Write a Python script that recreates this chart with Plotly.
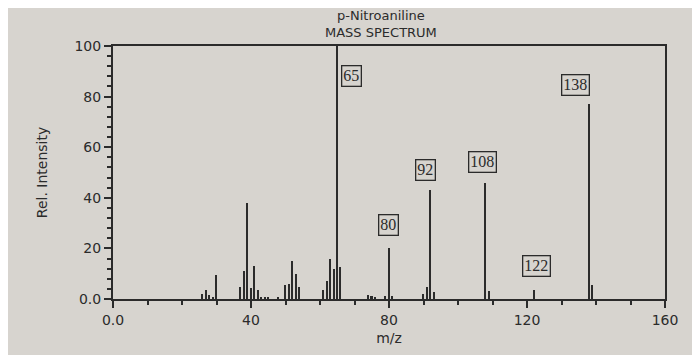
import plotly.graph_objects as go

# ---- data ----
mz = [26, 27, 28, 29, 30,
      37, 38, 39, 40, 41, 42, 43, 44, 45, 48,
      50, 51, 52, 53, 54,
      61, 62, 63, 64, 65, 66,
      74, 75, 76, 79, 80, 81,
      90, 91, 92, 93,
      108, 109, 122, 138, 139]
intensity = [1.8, 3.5, 1.6, 0.7, 9.5,
             4.6, 11.0, 38.0, 4.3, 13.0, 3.7, 0.7, 0.7, 0.6, 0.6,
             5.5, 5.8, 15.0, 10.0, 4.6,
             3.7, 7.2, 16.0, 12.0, 100.0, 12.5,
             1.6, 1.2, 0.7, 1.3, 20.0, 1.3,
             2.0, 4.6, 43.0, 2.6,
             46.0, 3.3, 3.5, 77.0, 5.5]
labeled_peaks = [65, 80, 92, 108, 122, 138]
x_tick_vals = [0, 40, 80, 120, 160]
x_tick_text = ["0.0", "40", "80", "120", "160"]
y_tick_vals = [0, 20, 40, 60, 80, 100]
y_tick_text = ["0.0", "20", "40", "60", "80", "100"]
title_lines = ["p-Nitroaniline", "MASS SPECTRUM"]

# ---- style ----
INK = "#2b2b2b"
PAPER = "#d7d4cf"
SANS = "DejaVu Sans"
SERIF = "Liberation Serif"
label_shift = {65: (14, -30), 80: (-1, 23), 92: (-5, 20),
               108: (-3, 21), 122: (3, 24), 138: (-14, 19)}

fig = go.Figure()
fig.add_trace(go.Bar(x=mz, y=intensity, width=0.45,
                     marker=dict(color=INK, line=dict(width=0)),
                     hoverinfo="x+y"))

lookup = dict(zip(mz, intensity))
for p in labeled_peaks:
    dx, dy = label_shift[p]
    fig.add_annotation(x=p, y=lookup[p], text=str(p), showarrow=False,
                       xshift=dx, yshift=dy, xanchor="center", yanchor="middle",
                       font=dict(family=SERIF, size=16, color=INK),
                       bordercolor=INK, borderwidth=1.3, borderpad=1,
                       bgcolor="rgba(0,0,0,0)")

fig.add_annotation(text="<br>".join(title_lines), xref="paper", yref="paper",
                   x=0.485, y=1.0, yshift=4, xanchor="center", yanchor="bottom",
                   showarrow=False, align="center",
                   font=dict(family=SANS, size=13, color=INK))

fig.update_layout(
    width=700, height=355,
    margin=dict(l=105, r=43, t=38, b=64),
    paper_bgcolor=PAPER, plot_bgcolor=PAPER,
    showlegend=False, bargap=0,
    font=dict(family=SANS, size=14, color=INK),
)
fig.update_xaxes(range=[0, 160], showgrid=False, zeroline=False, automargin=False,
                 showline=True, linecolor=INK, linewidth=2, mirror=True,
                 tickvals=x_tick_vals, ticktext=x_tick_text,
                 ticks="outside", ticklen=7, tickwidth=2, tickcolor=INK,
                 minor=dict(dtick=10, ticks="outside", ticklen=4, tickwidth=1.5, tickcolor=INK),
                 tickfont=dict(family=SANS, size=14, color=INK),
                 title=dict(text="m/z", font=dict(family=SANS, size=14, color=INK), standoff=6))
fig.update_yaxes(range=[0, 100], showgrid=False, zeroline=False, automargin=False,
                 showline=True, linecolor=INK, linewidth=2, mirror=True,
                 tickvals=y_tick_vals, ticktext=y_tick_text,
                 ticks="outside", ticklen=7, tickwidth=2, tickcolor=INK,
                 minor=dict(dtick=4, ticks="outside", ticklen=4, tickwidth=1.5, tickcolor=INK),
                 tickfont=dict(family=SANS, size=14, color=INK),
                 title=dict(text="Rel. Intensity", font=dict(family=SANS, size=14, color=INK), standoff=24))

fig.write_html("out.html")
